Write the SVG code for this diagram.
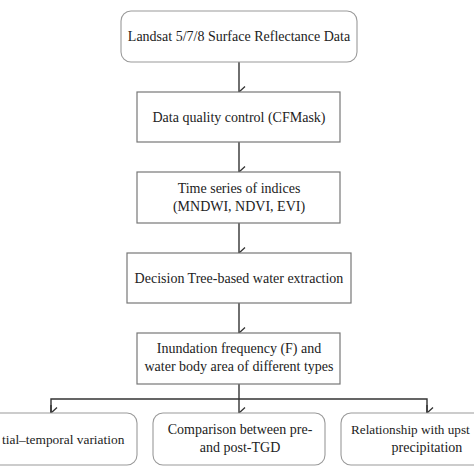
<svg xmlns="http://www.w3.org/2000/svg" width="474" height="474" viewBox="0 0 474 474">
<defs>
<marker id="arr" markerWidth="12" markerHeight="10" refX="6" refY="9" orient="auto-start-reverse" markerUnits="userSpaceOnUse" viewBox="0 0 12 10">
<polyline points="0.5,3 6,9 11.5,3" fill="none" stroke="#333" stroke-width="1.3"/>
</marker>
<style>
.box{fill:#fff;stroke:#777;stroke-width:1.2}
.rbox{fill:#fff;stroke:#9a9a9a;stroke-width:1.1}
.t{font-family:"Liberation Serif","Times New Roman",serif;font-size:14px;fill:#222;text-anchor:middle}
.c{stroke:#333;stroke-width:1.4;fill:none}
</style>
</defs>
<rect width="474" height="474" fill="#fff"/>
<g id="connectors">
<line class="c" x1="239" y1="62" x2="239" y2="92" marker-end="url(#arr)"/>
<line class="c" x1="239" y1="142" x2="239" y2="172" marker-end="url(#arr)"/>
<line class="c" x1="239" y1="223" x2="239" y2="253" marker-end="url(#arr)"/>
<line class="c" x1="239" y1="303" x2="239" y2="333" marker-end="url(#arr)"/>
<line class="c" x1="239" y1="384" x2="239" y2="413" marker-end="url(#arr)"/>
<polyline class="c" points="51,413 51,399 427,399 427,413"/>
<line class="c" x1="51" y1="405" x2="51" y2="413" marker-end="url(#arr)"/>
<line class="c" x1="427" y1="405" x2="427" y2="413" marker-end="url(#arr)"/>
</g>
<g id="n1"><rect class="rbox" x="121" y="11" width="236" height="51" rx="10"/><text class="t" x="239" y="41">Landsat 5/7/8 Surface Reflectance Data</text></g>
<g id="n2"><rect class="box" x="137" y="92" width="203" height="50"/><text class="t" x="239" y="122">Data quality control (CFMask)</text></g>
<g id="n3"><rect class="box" x="137" y="172" width="203" height="51"/><text class="t" x="239" y="193">Time series of indices</text><text class="t" x="239" y="211">(MNDWI, NDVI, EVI)</text></g>
<g id="n4"><rect class="box" x="127" y="253" width="224" height="50"/><text class="t" x="239" y="283">Decision Tree-based water extraction</text></g>
<g id="n5"><rect class="box" x="137" y="333" width="203" height="51"/><text class="t" x="239" y="353">Inundation frequency (F) and</text><text class="t" x="239" y="371">water body area of different types</text></g>
<g id="n6"><rect class="rbox" x="-40" y="413" width="177" height="52" rx="10"/><text class="t" x="2" y="444" style="text-anchor:start;font-size:13.4px">tial–temporal variation</text></g>
<g id="n7"><rect class="rbox" x="153" y="413" width="172" height="52" rx="10"/><text class="t" x="240" y="434">Comparison between pre-</text><text class="t" x="240" y="452">and post-TGD</text></g>
<g id="n8"><rect class="rbox" x="341" y="413" width="180" height="52" rx="10"/><text class="t" x="351" y="434" style="text-anchor:start;font-size:13.2px">Relationship with upst</text><text class="t" x="427" y="452">precipitation</text></g>
</svg>
